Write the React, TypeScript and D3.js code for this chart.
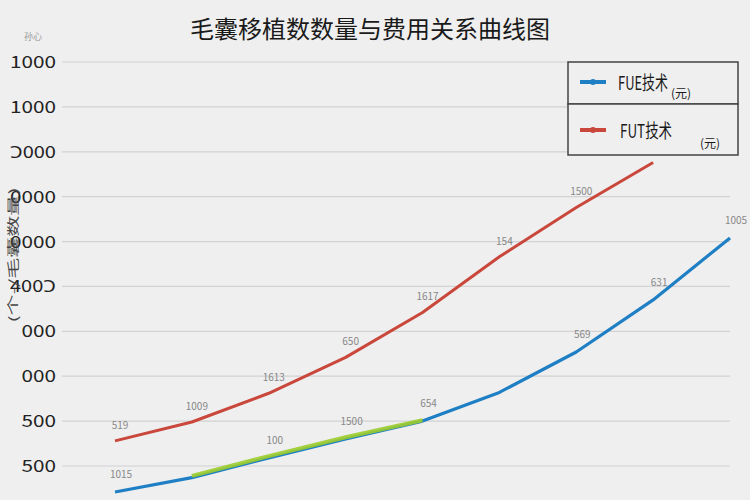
import * as d3 from "d3";

const W = 750;
const H = 500;

// x categories (9 sample points)
const points = ["1", "2", "3", "4", "5", "6", "7", "8", "9"];

// y grid ticks and the labels as printed on the picture
const tickValues = [500, 1000, 1500, 2000, 2500, 3000, 3500, 4000, 4500, 5000];
const tickLabels = ["500", "500", "000", "000", "400\u0186", "0000", "0000", "\u0186000", "1000", "1000"];

const futValues = [780, 990, 1310, 1710, 2210, 2830, 3380, 3880];
const futLabels = ["519", "1009", "1613", "650", "1617", "154", "1500", "1066"];

const fueValues = [210, 370, 590, 800, 1000, 1320, 1770, 2350, 3040];
const fueLabels = ["1015", "", "100", "1500", "654", "", "569", "631", "1005"];

// greenish overlay on the FUE line
const greenValues = [null, 390, 610, 820, 1010, null, null, null, null];

const margin = { left: 62, right: 730 };

export default function App() {
  const x = d3.scalePoint<string>().domain(points).range([115, 730]);
  const y = d3.scaleLinear().domain([500, 5000]).range([466, 62]);

  const line = d3
    .line<number>()
    .x((_, i) => x(points[i]) ?? 0)
    .y((d) => y(d));

  const greenLine = d3
    .line<number | null>()
    .defined((d) => d !== null)
    .x((_, i) => x(points[i]) ?? 0)
    .y((d) => y(d as number));

  const font = "'Noto Sans CJK SC', 'Noto Sans', sans-serif";

  return (
    <svg
      width={W}
      height={H}
      style={{ position: "absolute", left: 0, top: 0, background: "#efefef", fontFamily: font }}
    >
      <rect width={W} height={H} fill="#efefef" />
      <text x={370} y={38} textAnchor="middle" fontSize={24} fill="#1a1a1a">
        毛囊移植数数量与费用关系曲线图
      </text>
      <text x={33} y={40} textAnchor="middle" fontSize={9} fill="#999">
        孙心
      </text>

      {tickValues.map((t, i) => (
        <g key={t}>
          <line x1={margin.left} x2={margin.right} y1={y(t)} y2={y(t)} stroke="#d2d2d2" strokeWidth={1.2} />
          <text
            x={56}
            y={y(t) + 6}
            textAnchor="end"
            fontSize={17}
            fill="#222"
            textLength={tickLabels[i].length * 11.5}
            lengthAdjust="spacingAndGlyphs"
          >
            {tickLabels[i]}
          </text>
        </g>
      ))}

      <text
        transform="translate(18,255) rotate(-90)"
        textAnchor="middle"
        fontSize={12}
        fill="#444"
        textLength={135}
        lengthAdjust="spacingAndGlyphs"
      >
        (个-/毛囊数量)
      </text>

      <path d={line(futValues) ?? ""} fill="none" stroke="#c9473b" strokeWidth={3} strokeLinejoin="round" />
      <path d={line(fueValues) ?? ""} fill="none" stroke="#1f7fc4" strokeWidth={3.2} strokeLinejoin="round" />
      <path
        d={greenLine(greenValues) ?? ""}
        fill="none"
        stroke="#9ccc2e"
        strokeWidth={4}
        strokeLinejoin="round"
        opacity={0.9}
      />

      {futValues.map((v, i) => (
        <text key={"r" + i} x={(x(points[i]) ?? 0) + 5} y={y(v) - 12} textAnchor="middle" fontSize={10} fill="#888">
          {futLabels[i]}
        </text>
      ))}
      {fueValues.map((v, i) =>
        fueLabels[i] ? (
          <text key={"b" + i} x={(x(points[i]) ?? 0) + 6} y={y(v) - 14} textAnchor="middle" fontSize={10} fill="#888">
            {fueLabels[i]}
          </text>
        ) : null,
      )}

      <g>
        <rect x={568} y={62} width={170} height={42} fill="#efefef" stroke="#444" strokeWidth={1.5} />
        <rect x={568} y={104} width={170} height={51} fill="#efefef" stroke="#444" strokeWidth={1.5} />
        <line x1={580} x2={606} y1={82} y2={82} stroke="#1f7fc4" strokeWidth={4} />
        <circle cx={593} cy={82} r={3} fill="#1f7fc4" />
        <text x={618} y={90} fontSize={19} fill="#1a1a1a">
          <tspan textLength={50} lengthAdjust="spacingAndGlyphs">
            FUE技术
          </tspan>
          <tspan dx={3} dy={8} fontSize={12}>
            (元)
          </tspan>
        </text>
        <line x1={580} x2={606} y1={130} y2={130} stroke="#c9473b" strokeWidth={4} />
        <circle cx={593} cy={130} r={3} fill="#c9473b" />
        <text x={620} y={138} fontSize={19} fill="#1a1a1a">
          <tspan textLength={52} lengthAdjust="spacingAndGlyphs">
            FUT技术
          </tspan>
          <tspan dx={28} dy={10} fontSize={12}>
            (元)
          </tspan>
        </text>
      </g>
    </svg>
  );
}
